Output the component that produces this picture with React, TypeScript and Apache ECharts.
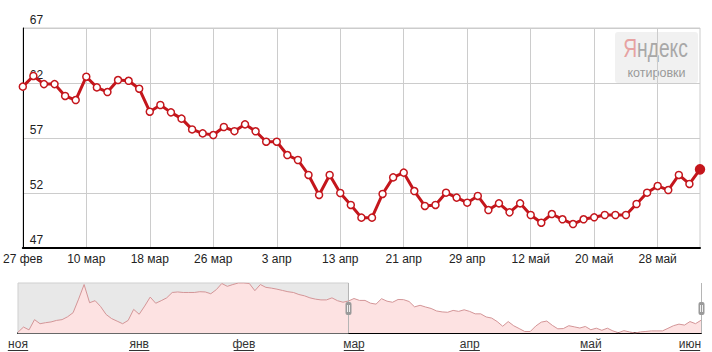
import React, { useEffect, useRef } from 'react';
import * as echarts from 'echarts';

const FONT = '"Liberation Sans", Arial, sans-serif';
const RED = '#c4161c';

// Main chart: trading days 27 Feb – 3 Jun
const dates = ['27 фев','2 мар','3 мар','4 мар','5 мар','6 мар','10 мар','11 мар','12 мар','13 мар','16 мар','17 мар','18 мар','19 мар','20 мар','23 мар','24 мар','25 мар','26 мар','27 мар','30 мар','31 мар','1 апр','2 апр','3 апр','6 апр','7 апр','8 апр','9 апр','10 апр','13 апр','14 апр','15 апр','16 апр','17 апр','20 апр','21 апр','22 апр','23 апр','24 апр','27 апр','28 апр','29 апр','30 апр','5 май','6 май','7 май','8 май','12 май','13 май','14 май','15 май','18 май','19 май','20 май','21 май','22 май','25 май','26 май','27 май','28 май','29 май','1 июн','2 июн','3 июн'];

const values = [
  61.67, 62.64, 61.9, 61.9, 60.82, 60.45, 62.57, 61.6, 61.18, 62.27,
  62.2, 61.48, 59.39, 60.0, 59.33, 58.76, 57.78, 57.42, 57.27, 58.0,
  57.62, 58.24, 57.61, 56.66, 56.66, 55.45, 55.0, 53.64, 51.82, 53.64,
  52.0, 50.91, 49.76, 49.76, 51.91, 53.42, 53.85, 52.18, 50.82, 50.91,
  52.03, 51.58, 51.12, 51.73, 50.45, 51.06, 50.24, 51.06, 50.0, 49.3,
  50.09, 49.61, 49.18, 49.61, 49.79, 50.0, 50.0, 50.0, 51.0, 52.03,
  52.64, 52.27, 53.64, 52.82, 54.15,
];

// Navigator history before the selected range (late Nov – 26 Feb)
const histValues = [
  49.5, 51.5, 50.4, 54.4, 52.8, 53.2, 53.5, 54.1, 54.4, 55.5,
  57.1, 62.4, 68.1, 61.0, 61.8, 59.5, 56.4, 54.8, 53.8, 52.8,
  54.1, 58.4, 56.5, 59.7, 63.2, 60.8, 61.8, 62.9, 65.0, 65.2,
  65.0, 65.0, 65.0, 65.3, 65.2, 64.5, 66.1, 68.5, 67.4, 68.1,
  68.7, 68.7, 68.5, 65.7, 68.1, 67.0, 66.7, 66.3, 65.8, 65.3,
  65.0, 64.2, 63.7, 62.9, 62.4, 62.1, 62.1, 62.9, 61.8, 61.2,
];

const navMonthLabels = ['ноя', 'янв', 'фев', 'мар', 'апр', 'май', 'июн'];
const navMonthIdx = [0, 22, 41, 61, 82, 104, 122];

const yTicks = { min: 47, max: 67, step: 5 };

const LOGO_FONT = '26px "Liberation Sans", Arial, sans-serif';

export default function App() {
  const ref = useRef<HTMLDivElement>(null);

  useEffect(() => {
    if (!ref.current) return;
    const chart = echarts.init(ref.current, null, { renderer: 'svg' });

    const all = histValues.concat(values);
    const selStart = histValues.length;
    const selEnd = all.length - 1;
    const last = values.length - 1;

    const option: any = {
      animation: false,
      backgroundColor: '#fff',
      textStyle: { fontFamily: FONT },
      grid: [
        { left: 18, right: 12, top: 28, bottom: 104, show: true, borderColor: '#ccc', borderWidth: 1 },
        { left: 18, right: 11, top: 283, height: 50 },
      ],
      xAxis: [
        {
          type: 'category', gridIndex: 0, data: dates, boundaryGap: false,
          axisLine: { lineStyle: { color: '#000', width: 2 } },
          axisTick: { show: false },
          axisLabel: { interval: 5, color: '#222', fontSize: 12, margin: 5, fontFamily: FONT },
          splitLine: { show: true, interval: 5, lineStyle: { color: '#ccc', width: 1 } },
        },
        {
          type: 'value', gridIndex: 1, min: 0, max: all.length - 1,
          axisLine: { onZero: false, lineStyle: { color: '#000', width: 2 } },
          axisTick: { show: false }, axisLabel: { show: false }, splitLine: { show: false },
        },
      ],
      yAxis: [
        {
          type: 'value', gridIndex: 0, min: yTicks.min, max: yTicks.max, interval: yTicks.step,
          axisLine: { show: true, lineStyle: { color: '#000', width: 1 } },
          axisTick: { show: false },
          axisLabel: {
            inside: true, margin: 7, verticalAlign: 'bottom', padding: [0, 0, 2, 0],
            color: '#222', fontSize: 12, fontFamily: FONT,
          },
          splitLine: { lineStyle: { color: '#ccc', width: 1 } },
        },
        { type: 'value', gridIndex: 1, min: 'dataMin', max: 'dataMax', show: false },
      ],
      series: [
        {
          type: 'line', xAxisIndex: 0, yAxisIndex: 0, z: 5,
          data: values.map((v, i) =>
            i === last ? { value: v, symbolSize: 9, itemStyle: { color: RED, borderColor: RED } } : v),
          lineStyle: { color: RED, width: 3 },
          symbol: 'circle', symbolSize: 7, showAllSymbol: true,
          itemStyle: { color: '#fff', borderColor: RED, borderWidth: 1.5 },
        },
        {
          type: 'line', xAxisIndex: 1, yAxisIndex: 1,
          data: all.map((v, i) => [i, v]),
          showSymbol: false,
          lineStyle: { color: '#d39597', width: 1 },
          areaStyle: { color: '#fde2e2', opacity: 1, origin: 'start' },
          markArea: {
            silent: true,
            itemStyle: { color: 'rgba(130,130,130,0.18)', borderColor: '#cfcfcf', borderWidth: 1 },
            data: [[{ xAxis: 0 }, { xAxis: selStart }]],
          },
        },
        {
          type: 'custom', xAxisIndex: 1, yAxisIndex: 1, z: 10,
          data: [[selStart, all[selStart]], [selEnd, all[selEnd]]],
          renderItem: (params: any, api: any) => {
            const x = Math.round(api.coord([api.value(0), api.value(1)])[0]);
            const cs = params.coordSys;
            const hy = cs.y + 19;
            return {
              type: 'group',
              children: [
                { type: 'line', shape: { x1: x + 0.5, y1: cs.y, x2: x + 0.5, y2: cs.y + cs.height }, style: { stroke: '#b5b5b5', lineWidth: 1 } },
                { type: 'rect', shape: { x: x - 2.5, y: hy, width: 6, height: 13, r: 2 }, style: { fill: '#9a9a9a' } },
                { type: 'line', shape: { x1: x - 0.5, y1: hy + 3, x2: x - 0.5, y2: hy + 10 }, style: { stroke: '#eee', lineWidth: 1 } },
                { type: 'line', shape: { x1: x + 1.5, y1: hy + 3, x2: x + 1.5, y2: hy + 10 }, style: { stroke: '#eee', lineWidth: 1 } },
              ],
            };
          },
        },
        {
          type: 'custom', xAxisIndex: 1, yAxisIndex: 1, z: 10,
          data: navMonthIdx.map((i) => [i, all[i]]),
          renderItem: (params: any, api: any) => {
            const x = api.coord([api.value(0), api.value(1)])[0];
            const cs = params.coordSys;
            const label = navMonthLabels[params.dataIndex];
            const w = label.length * 6.8;
            const ty = cs.y + cs.height + 11;
            return {
              type: 'group',
              children: [
                { type: 'text', x, y: ty, style: { text: label, fill: '#333', font: `12px ${FONT}`, align: 'center', verticalAlign: 'middle' } },
                { type: 'line', shape: { x1: x - w / 2, y1: ty + 6.5, x2: x + w / 2, y2: ty + 6.5 }, style: { stroke: '#333', lineWidth: 1 } },
              ],
            };
          },
        },
      ],
      graphic: [
        {
          type: 'group', left: 615, top: 32, z: 20,
          children: [
            { type: 'rect', shape: { x: 0, y: 0, width: 83, height: 51, r: 3 }, style: { fill: 'rgba(236,236,236,0.72)' } },
            {
              type: 'text', x: 40.5, y: 16, scaleX: 0.74, scaleY: 1,
              style: {
                text: '{r|Я}{g|ндекс}', align: 'center', verticalAlign: 'middle',
                font: LOGO_FONT,
                rich: {
                  r: { fill: '#e7a2a2', font: LOGO_FONT },
                  g: { fill: '#a8a8a8', font: LOGO_FONT },
                },
              },
            },
            {
              type: 'text', x: 41.5, y: 40.5,
              style: { text: 'котировки', align: 'center', verticalAlign: 'middle', fill: '#999', font: `12.5px ${FONT}` },
            },
          ],
        },
      ],
    };

    chart.setOption(option);
    return () => chart.dispose();
  }, []);

  return (
    <div
      ref={ref}
      style={{ position: 'absolute', left: 0, top: 0, width: 712, height: 352, background: '#fff' }}
    />
  );
}
